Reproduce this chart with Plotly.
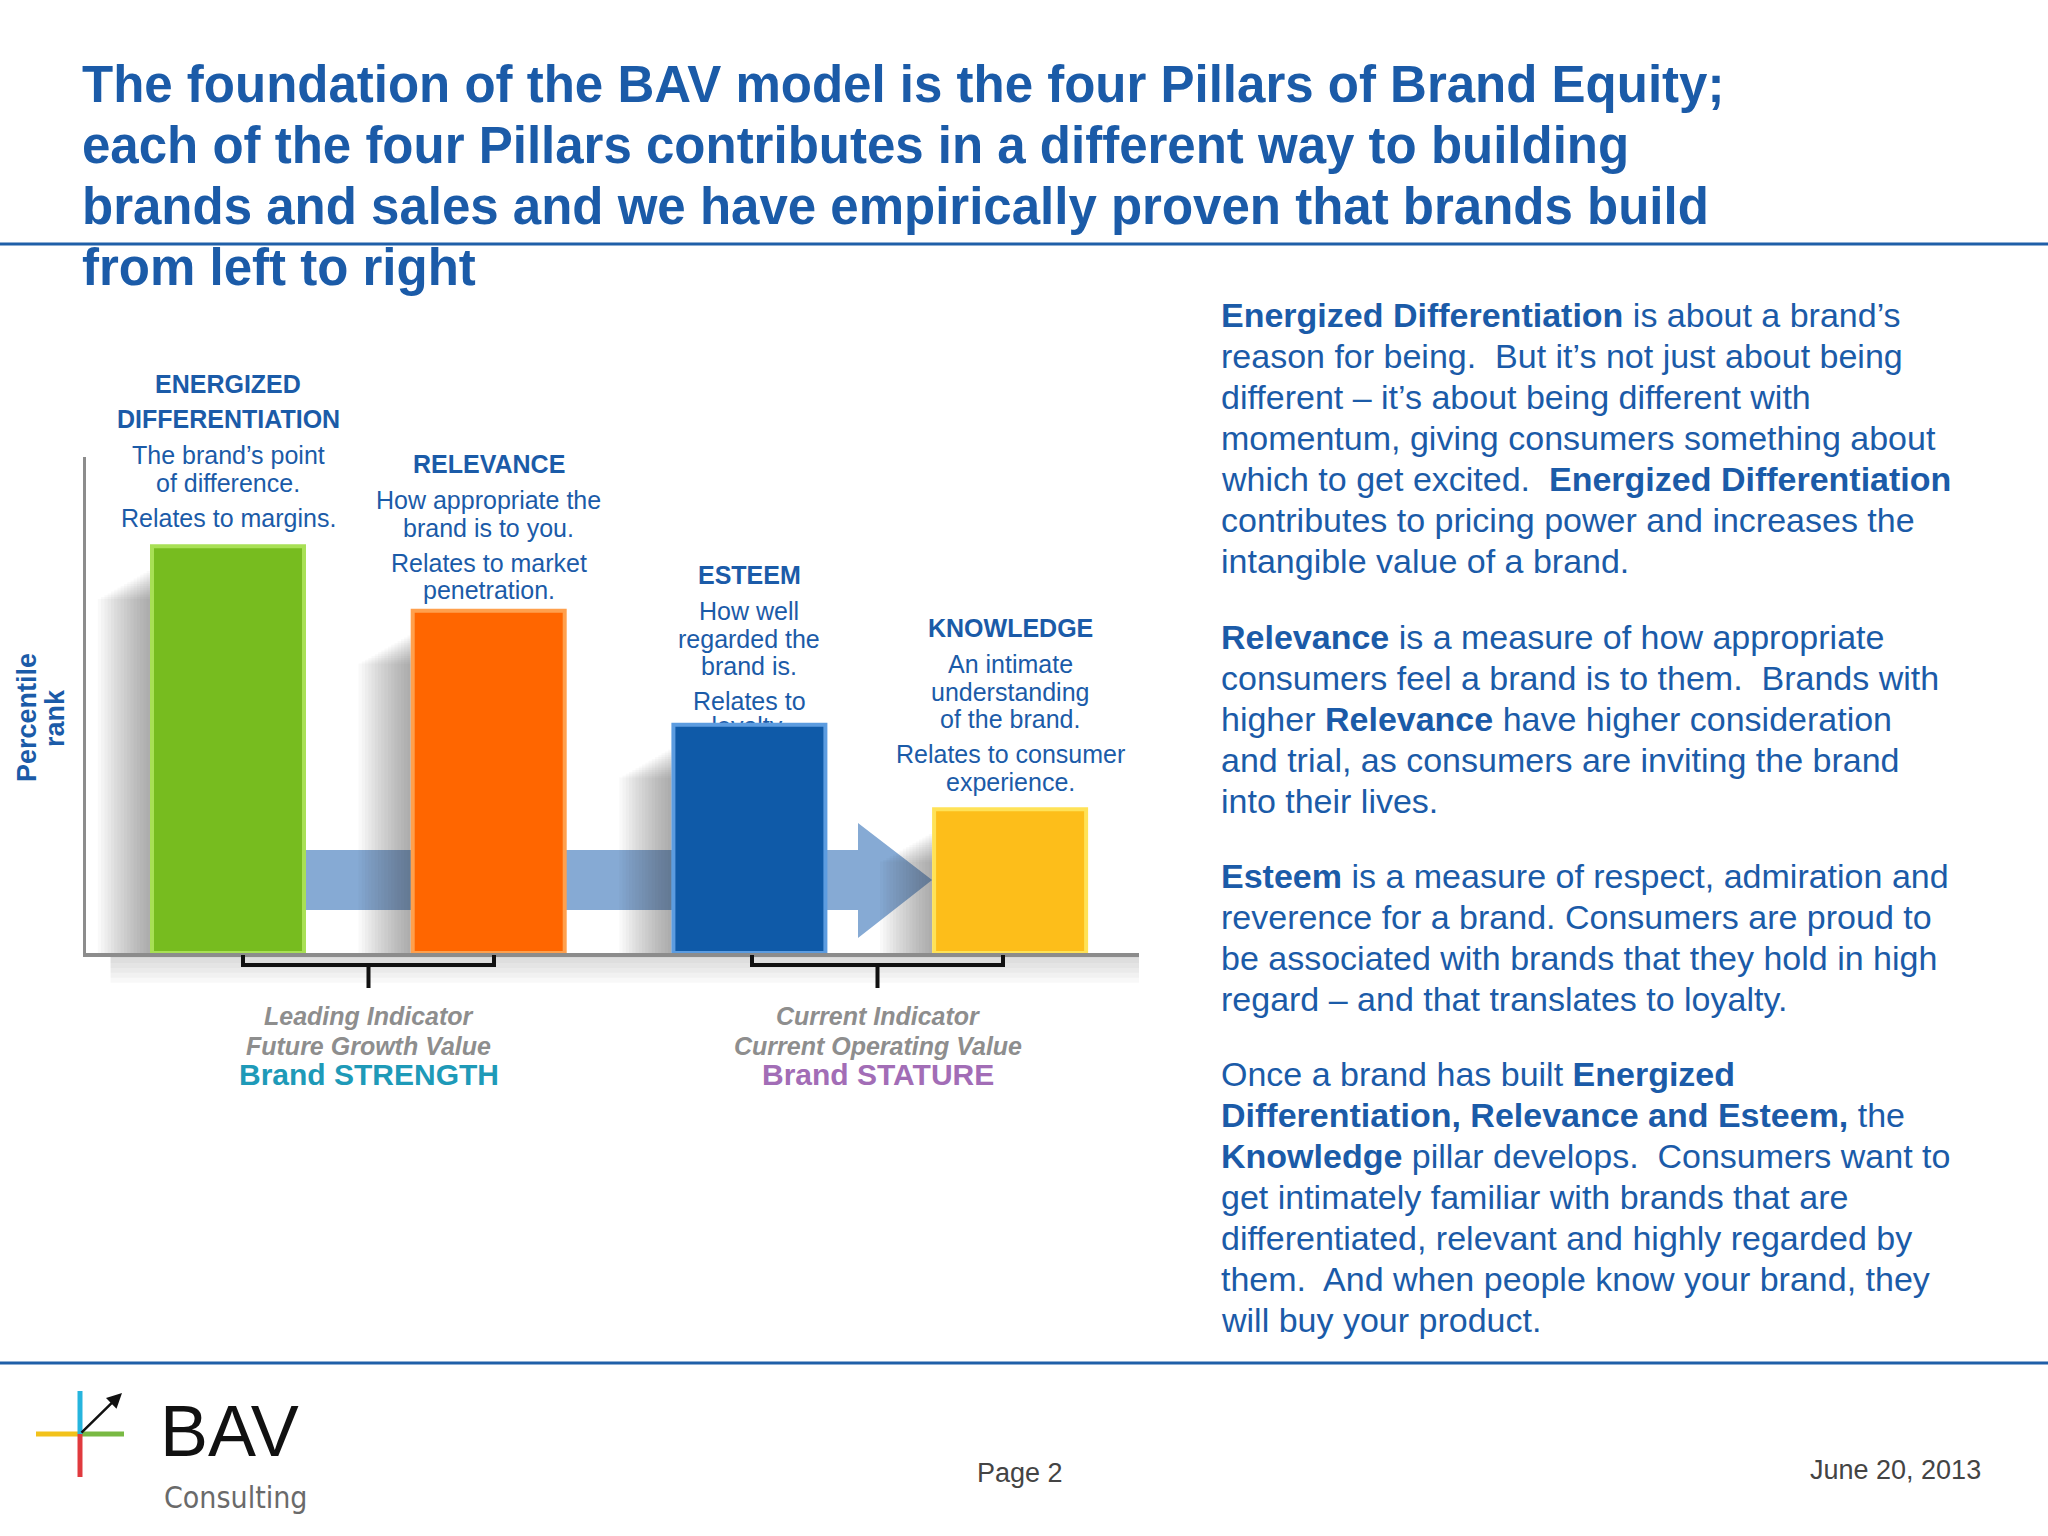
import plotly.graph_objects as go

W, H = 2048, 1536

# ---------------- data ----------------
pillars = ["Energized Differentiation", "Relevance", "Esteem", "Knowledge"]
percentile_rank = [82, 69, 46, 29]
bar_colors = ["#77BC1F", "#FF6600", "#0F5AA8", "#FDBE1A"]
bar_edge_colors = ["#A8E055", "#FFA04D", "#5C9CE0", "#FFE257"]

pillar_headers = [["ENERGIZED", "DIFFERENTIATION"], ["RELEVANCE"], ["ESTEEM"], ["KNOWLEDGE"]]
pillar_descriptions = [
    [["The brand’s point", "of difference."], ["Relates to margins."]],
    [["How appropriate the", "brand is to you."], ["Relates to market", "penetration."]],
    [["How well", "regarded the", "brand is."], ["Relates to", "loyalty."]],
    [["An intimate", "understanding", "of the brand."], ["Relates to consumer", "experience."]],
]

indicator_spans = [(0, 1), (2, 3)]
indicator_lines = [["Leading Indicator", "Future Growth Value"],
                   ["Current Indicator", "Current Operating Value"]]
indicator_names = ["Brand STRENGTH", "Brand STATURE"]
indicator_colors = ["#1E9AB8", "#A26DB6"]

y_axis_title = ["Percentile", "rank"]

title_lines = [
    "The foundation of the BAV model is the four Pillars of Brand Equity;",
    "each of the four Pillars contributes in a different way to building",
    "brands and sales and we have empirically proven that brands build",
    "from left to right",
]

body_paragraphs = [
    ["<b>Energized Differentiation</b> is about a brand’s",
     "reason for being.\u00a0 But it’s not just about being",
     "different – it’s about being different with",
     "momentum, giving consumers something about",
     "which to get excited.\u00a0 <b>Energized Differentiation</b>",
     "contributes to pricing power and increases the",
     "intangible value of a brand."],
    ["<b>Relevance</b> is a measure of how appropriate",
     "consumers feel a brand is to them.\u00a0 Brands with",
     "higher <b>Relevance</b> have higher consideration",
     "and trial, as consumers are inviting the brand",
     "into their lives."],
    ["<b>Esteem</b> is a measure of respect, admiration and",
     "reverence for a brand. Consumers are proud to",
     "be associated with brands that they hold in high",
     "regard – and that translates to loyalty."],
    ["Once a brand has built <b>Energized</b>",
     "<b>Differentiation, Relevance and Esteem,</b> the",
     "<b>Knowledge</b> pillar develops.\u00a0 Consumers want to",
     "get intimately familiar with brands that are",
     "differentiated, relevant and highly regarded by",
     "them.\u00a0 And when people know your brand, they",
     "will buy your product."],
]

footer_page = "Page 2"
footer_date = "June 20, 2013"
logo_name = "BAV"
logo_sub = "Consulting"

# ---------------- geometry ----------------
FONT = "Liberation Sans, Arial, sans-serif"
BLUE = "#1B5BA8"
X_LEFT, X_RIGHT = 86, 1139
Y_BASE, Y_TOP = 953, 457
BAR0, SLOT = 228, 260.7
EDGE_W = 4
BAR_W = (156 - EDGE_W) / SLOT
Y_MAX = 100
x_range = [(X_LEFT - BAR0) / SLOT, (X_RIGHT - BAR0) / SLOT]


def pp_y(px):
    return 1 - px / H


def pp_x(px):
    return px / W


def yd(px):
    return (Y_BASE - px) / (Y_BASE - Y_TOP) * Y_MAX


def xd(px):
    return (px - BAR0) / SLOT


fig = go.Figure()

# hidden-behind-bar text (drawn on base subplot, below the bars of the overlay subplot)
fig.add_trace(go.Scatter(
    x=[2], y=[yd(729)], mode="text", text=[pillar_descriptions[2][1][1]],
    textfont=dict(family=FONT, size=25, color=BLUE), hoverinfo="skip",
    showlegend=False, xaxis="x", yaxis="y"))

# bars
fig.add_trace(go.Bar(
    x=list(range(len(pillars))), y=percentile_rank, width=BAR_W,
    marker=dict(color=bar_colors, line=dict(color=bar_edge_colors, width=EDGE_W)),
    hovertext=pillars, hoverinfo="text", showlegend=False,
    xaxis="x2", yaxis="y2"))

shapes = []
annotations = []

# connecting arrow band (behind bars)
half = 156 / SLOT / 2
bx0 = 0 + half
bx1 = xd(858)
tip = 3 - half
b_lo, b_hi = yd(910), yd(850)
h_lo, h_hi = yd(938), yd(823)
path = (f"M {bx0},{b_lo} L {bx1},{b_lo} L {bx1},{h_lo} L {tip},{(b_lo + b_hi) / 2} "
        f"L {bx1},{h_hi} L {bx1},{b_hi} L {bx0},{b_hi} Z")
shapes.append(dict(type="path", path=path, xref="x", yref="y", layer="below",
                   fillcolor="#86AAD4", line=dict(width=0)))

# soft shadows to the left of each bar
N = 16
for i, v in enumerate(percentile_rank):
    left = i - half
    for k in range(N):
        f = (k + 1) / N
        shapes.append(dict(type="rect", xref="x", yref="y", layer="below",
                           x0=left - 0.20 * (1 - k / N), x1=left,
                           y0=0, y1=v - 5 - 6 * (1 - f),
                           fillcolor="rgba(60,60,60,0.03)", line=dict(width=0)))

# haze below baseline
for k in range(6):
    shapes.append(dict(type="rect", xref="x", yref="y domain", layer="below",
                       x0=-0.45, x1=x_range[1], y0=0, y1=-0.01 * (k + 1),
                       fillcolor="rgba(120,120,120,0.05)", line=dict(width=0)))

# brackets
bracket_x = [(xd(243), xd(494)), (xd(752), xd(1003))]
for (a, b) in bracket_x:
    yt, yh, ys = pp_y(955), pp_y(965), pp_y(988)
    shapes.append(dict(type="path", xref="x", yref="paper",
                       path=f"M {a},{yt} L {a},{yh} L {b},{yh} L {b},{yt}",
                       line=dict(color="#111111", width=4)))
    m = (a + b) / 2
    shapes.append(dict(type="line", xref="x", yref="paper", x0=m, x1=m, y0=yh, y1=ys,
                       line=dict(color="#111111", width=4)))

# horizontal rules
for ypx in (244, 1363):
    shapes.append(dict(type="line", xref="paper", yref="paper", x0=0, x1=1,
                       y0=pp_y(ypx), y1=pp_y(ypx), line=dict(color="#1F5FA8", width=3)))

# logo cross
cx, cy = 80, 1434
logo_segments = [((36, cy), (cx, cy), "#F2C21B"), ((cx, cy), (124, cy), "#79B943"),
                 ((cx, 1391), (cx, cy), "#26B5DE"), ((cx, cy), (cx, 1477), "#E03A3E")]
for (p0, p1, col) in logo_segments:
    shapes.append(dict(type="line", xref="paper", yref="paper",
                       x0=pp_x(p0[0]), y0=pp_y(p0[1]), x1=pp_x(p1[0]), y1=pp_y(p1[1]),
                       line=dict(color=col, width=5)))


def txt(x, y, text, size, color=BLUE, xanchor="center", xref="paper", yref="paper",
        textangle=0, family=FONT):
    annotations.append(dict(x=x, y=y, xref=xref, yref=yref, text=text, showarrow=False,
                            xanchor=xanchor, yanchor="middle", textangle=textangle,
                            font=dict(family=family, size=size, color=color)))


# logo arrow
annotations.append(dict(x=pp_x(122), y=pp_y(1393), xref="paper", yref="paper",
                        ax=cx - 122, ay=cy - 1393,
                        text="", showarrow=True, arrowhead=2, arrowsize=1.2,
                        arrowwidth=2.5, arrowcolor="#111111"))
txt(pp_x(158), pp_y(1431), logo_name, 72, "#111111", xanchor="left")
txt(pp_x(162), pp_y(1497), logo_sub, 30, "#6A6A6A", xanchor="left",
    family="Liberation Sans Narrow, DejaVu Sans Condensed, Liberation Sans")

# title
for i, line in enumerate(title_lines):
    txt(pp_x(80), pp_y(84 + 61.3 * i), f"<b>{line}</b>", 51, xanchor="left")

# pillar labels
header_y = [384, 464, 575, 628]
for i in range(len(pillars)):
    y = header_y[i]
    for j, hl in enumerate(pillar_headers[i]):
        if j > 0:
            y += 35
        txt(i, pp_y(y), f"<b>{hl}</b>", 25, xref="x")
    y += 1
    for p, para in enumerate(pillar_descriptions[i]):
        for l, line in enumerate(para):
            y += 27.5 if l > 0 else 35
            if i == 2 and p == 1 and l == 1:
                continue  # drawn behind the bar as a trace
            txt(i, pp_y(y), line, 25, xref="x")

# y-axis title
txt(pp_x(27), pp_y(718), f"<b>{y_axis_title[0]}</b>", 27, textangle=-90)
txt(pp_x(55), pp_y(718), f"<b>{y_axis_title[1]}</b>", 27, textangle=-90)

# indicator labels
for g, (a, b) in enumerate(bracket_x):
    m = (a + b) / 2
    for l, line in enumerate(indicator_lines[g]):
        txt(m, pp_y(1016 + 30 * l), f"<b><i>{line}</i></b>", 25, "#8E8E8E", xref="x")
    txt(m, pp_y(1074), f"<b>{indicator_names[g]}</b>", 30, indicator_colors[g], xref="x")

# right-hand body text
para_start = [315, 637, 876, 1073.5]
for p, para in enumerate(body_paragraphs):
    for l, line in enumerate(para):
        txt(pp_x(1219), pp_y(para_start[p] + 41 * l), line, 34, xanchor="left")

# footer
txt(pp_x(1020), pp_y(1473), footer_page, 27, "#444444")
txt(pp_x(1983), pp_y(1470), footer_date, 27, "#444444", xanchor="right")

fig.update_layout(
    width=W, height=H, margin=dict(l=0, r=0, t=0, b=0),
    paper_bgcolor="white", plot_bgcolor="rgba(0,0,0,0)",
    showlegend=False, barmode="overlay",
    xaxis=dict(domain=[pp_x(X_LEFT), pp_x(X_RIGHT)], range=x_range, showgrid=False,
               zeroline=False, showticklabels=False, ticks="", showline=True,
               linecolor="#8C8C8C", linewidth=4, fixedrange=True),
    yaxis=dict(domain=[pp_y(Y_BASE), pp_y(Y_TOP)], range=[0, Y_MAX], showgrid=False,
               zeroline=False, showticklabels=False, ticks="", showline=True,
               linecolor="#8C8C8C", linewidth=3, fixedrange=True),
    xaxis2=dict(overlaying="x", anchor="y2", range=x_range, visible=False, fixedrange=True),
    yaxis2=dict(overlaying="y", anchor="x2", range=[0, Y_MAX], visible=False, fixedrange=True),
    shapes=shapes, annotations=annotations,
)

fig.write_html("out.html")
